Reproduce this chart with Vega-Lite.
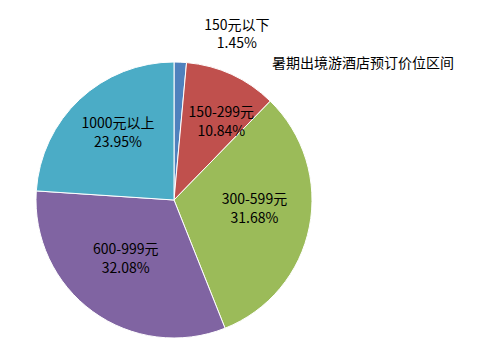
{
  "$schema": "https://vega.github.io/schema/vega-lite/v6.json",
  "autosize": "none",
  "width": 348,
  "height": 306,
  "padding": {"left": 0, "top": 47, "right": 146, "bottom": 0},
  "background": "white",
  "title": {
    "text": "暑期出境游酒店预订价位区间",
    "anchor": "start",
    "orient": "top",
    "frame": "group",
    "font": "Noto Sans CJK SC",
    "fontSize": 14,
    "fontWeight": "normal",
    "color": "#000000",
    "baseline": "middle",
    "offset": 0,
    "dx": 272,
    "dy": 59
  },
  "data": {
    "values": [
      {"idx": 1, "name": "150元以下", "value": 1.45},
      {"idx": 2, "name": "150-299元", "value": 10.84},
      {"idx": 3, "name": "300-599元", "value": 31.68},
      {"idx": 4, "name": "600-999元", "value": 32.08},
      {"idx": 5, "name": "1000元以上", "value": 23.95}
    ]
  },
  "transform": [
    {"calculate": "datum.name + '\\n' + format(datum.value, '.2f') + '%'", "as": "label"}
  ],
  "encoding": {
    "theta": {"field": "value", "type": "quantitative", "stack": true},
    "order": {"field": "idx", "type": "quantitative"}
  },
  "layer": [
    {
      "mark": {"type": "arc", "outerRadius": 138, "stroke": "white", "strokeWidth": 1},
      "encoding": {
        "color": {
          "field": "name",
          "type": "nominal",
          "scale": {
            "domain": ["150元以下", "150-299元", "300-599元", "600-999元", "1000元以上"],
            "range": ["#4F81BD", "#C0504D", "#9BBB59", "#8064A2", "#4BACC6"]
          },
          "legend": null
        }
      }
    },
    {
      "mark": {"type": "text", "radius": 82, "dy": -16, "font": "Noto Sans CJK SC", "fontSize": 14, "lineBreak": "\n", "lineHeight": 19, "color": "#000000", "align": "center", "baseline": "middle"},
      "encoding": {"text": {"condition": {"test": "datum.idx > 2", "field": "label"}, "value": ""}}
    },
    {
      "mark": {"type": "text", "radius": 94, "dx": 8, "dy": -2, "font": "Noto Sans CJK SC", "fontSize": 14, "lineBreak": "\n", "lineHeight": 19, "color": "#000000", "align": "center", "baseline": "middle"},
      "encoding": {"text": {"condition": {"test": "datum.idx == 2", "field": "label"}, "value": ""}}
    },
    {
      "mark": {"type": "text", "radius": 150, "dx": 56, "dy": -24, "font": "Noto Sans CJK SC", "fontSize": 14, "lineBreak": "\n", "lineHeight": 18, "color": "#000000", "align": "center", "baseline": "middle"},
      "encoding": {"text": {"condition": {"test": "datum.idx == 1", "field": "label"}, "value": ""}}
    }
  ]
}
